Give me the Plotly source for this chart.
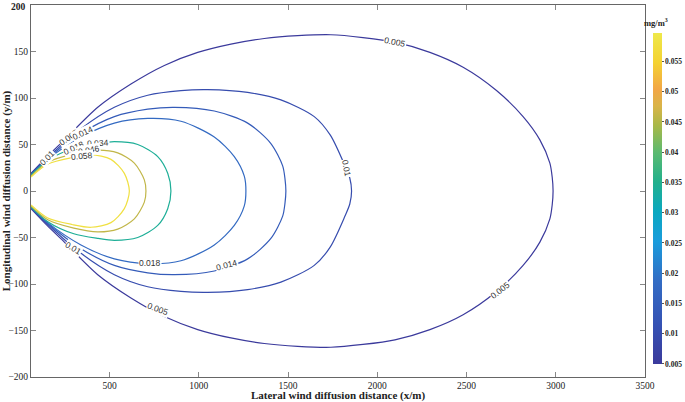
import plotly.graph_objects as go
from plotly.colors import sample_colorscale

# contour levels (mg/m^3) and upper-half points of each contour
levels = [0.005, 0.01, 0.014, 0.018, 0.034, 0.046, 0.058]

x_005 = [60, 150, 247, 434, 620, 807, 994, 1180, 1367, 1554, 1740, 1920, 2099, 2295, 2481, 2668, 2817, 2911, 2967, 2980, 2985]
y_005 = [19, 37, 55, 90, 115, 135, 149, 158, 164, 167, 168, 165, 160, 149, 133, 108, 80, 55, 30, 15, 0]
x_010 = [60, 154, 340, 527, 714, 900, 1050, 1274, 1460, 1647, 1737, 1819, 1846, 1856]
y_010 = [18, 36, 67, 90, 103, 108, 109, 106, 98, 80, 60, 27, 14, 0]
x_014 = [60, 154, 340, 527, 714, 863, 1087, 1274, 1404, 1470, 1483, 1488]
y_014 = [18, 35, 62, 80, 88, 90, 86, 73, 51, 27, 13, 0]
x_018 = [60, 154, 340, 527, 714, 900, 1087, 1199, 1255, 1264]
y_018 = [17, 34, 58, 73, 78, 75, 58, 37, 16, 0]
x_034 = [60, 154, 300, 436, 527, 658, 770, 826, 844]
y_034 = [17, 33, 46, 51, 53, 50, 37, 19, 0]
x_046 = [60, 154, 300, 434, 546, 639, 695, 704]
y_046 = [16, 31, 40, 44, 41, 30, 12, 0]
x_058 = [60, 154, 290, 396, 508, 583, 611]
y_058 = [15, 29, 36, 39, 34, 19, 0]

contour_x = [x_005, x_010, x_014, x_018, x_034, x_046, x_058]
contour_y = [y_005, y_010, y_014, y_018, y_034, y_046, y_058]

# inline contour labels: text, x, y, angle
label_text = ["0.005", "0.005", "0.005", "0.005", "0.01", "0.01", "0.01", "0.018", "0.014",
              "0.018", "0.014", "0.034", "0.046", "0.058"]
label_x = [2099, 2690, 771, 275, 1830, 296, 150, 727, 1156, 300, 350, 436, 385, 344]
label_y = [160, -106, -127, 58, 24, -61, 35, -77, -80, 46, 62, 52, 44, 38]
label_ang = [12, -38, 20, -35, 80, 30, -45, 0, -15, -25, -25, -3, -10, -5]

x_ticks = [500, 1000, 1500, 2000, 2500, 3000, 3500]
y_ticks = [-200, -150, -100, -50, 0, 50, 100, 150, 200]
cb_ticks = [0.005, 0.01, 0.015, 0.02, 0.025, 0.03, 0.035, 0.04, 0.045, 0.05, 0.055]
cmin, cmax = 0.005, 0.0597

parula = [[0.0, '#3b3a9c'], [0.12, '#3552b4'], [0.25, '#336cc4'], [0.37, '#1a9cdc'],
          [0.46, '#0aa8c0'], [0.55, '#22b08c'], [0.64, '#5cba70'], [0.72, '#a8b848'],
          [0.78, '#dab448'], [0.83, '#f2a646'], [0.91, '#f4d232'], [1.0, '#eee84a']]

serif = "Liberation Serif"

fig = go.Figure()

for lev, xs, ys in zip(levels, contour_x, contour_y):
    col = sample_colorscale(parula, [(lev - cmin) / (cmax - cmin)])[0]
    # upper half out to the nose, then back along the mirrored lower half
    px = xs + xs[::-1][1:]
    py = ys + [-v for v in ys[::-1][1:]]
    fig.add_trace(go.Scatter(x=px, y=py, mode='lines',
                             line=dict(color=col, width=1.2, shape='spline', smoothing=0.8),
                             showlegend=False, hoverinfo='skip'))

# colorbar only
fig.add_trace(go.Scatter(x=[None], y=[None], mode='markers', showlegend=False, hoverinfo='skip',
                         marker=dict(color=[cmin], cmin=cmin, cmax=cmax, colorscale=parula, showscale=True,
                                     colorbar=dict(thickness=9, len=331, lenmode='pixels', xpad=0, ypad=0,
                                                   x=1.0125, xanchor='left', y=0.48, yanchor='middle',
                                                   outlinewidth=0, ticks='outside', ticklen=2, tickcolor='#555',
                                                   tickvals=cb_ticks,
                                                   ticktext=[f"<b>{t:g}</b>" for t in cb_ticks],
                                                   tickfont=dict(family=serif, size=7.5, color='#222')))))

fig.add_annotation(x=1.04, y=1.0, xref='paper', yref='paper', yanchor='top', text="<b>mg/m<sup>3</sup></b>",
                   showarrow=False, yshift=-10, font=dict(family=serif, size=8.5, color='#222'))

# plotly drops the label of the top tick at the frame edge, so write it in by hand
fig.add_annotation(x=0, y=y_ticks[-1], xref='paper', yref='y', xanchor='right', yanchor='top',
                   text=f"<b>{y_ticks[-1]}</b>", showarrow=False, xshift=-3, yshift=5,
                   font=dict(family=serif, size=9.5, color='#222'))

for t, x, y, a in zip(label_text, label_x, label_y, label_ang):
    fig.add_annotation(x=x, y=y, text=t, textangle=a, showarrow=False, bgcolor='white', borderpad=0,
                       font=dict(family="Liberation Sans", size=8.5, color='#333'))

fig.update_xaxes(range=[60, 3500], tickvals=x_ticks,
                 showgrid=False, zeroline=False, showline=True, linecolor='#666', linewidth=1,
                 mirror='ticks', ticks='inside', ticklen=5, tickcolor='#888', automargin=False,
                 tickfont=dict(family=serif, size=9.5, color='#222'),
                 title=dict(text="<b>Lateral wind diffusion distance (x/m)</b>", standoff=1,
                            font=dict(family=serif, size=11, color='#222')))
fig.update_yaxes(range=[-200, 200], tickvals=y_ticks[:-1], ticklabeloverflow='allow',
                 showgrid=False, zeroline=False, showline=True, linecolor='#666', linewidth=1,
                 mirror='ticks', ticks='inside', ticklen=5, tickcolor='#888', automargin=False,
                 tickfont=dict(family=serif, size=9.5, color='#222'),
                 title=dict(text="<b>Longitudinal wind diffusion distance (y/m)</b>", standoff=0,
                            font=dict(family=serif, size=11, color='#222')))

fig.update_layout(width=685, height=402, margin=dict(l=31, r=40, t=5, b=25, autoexpand=False),
                  plot_bgcolor='white', paper_bgcolor='white', hovermode=False)

# drop the browser's default page margin so the figure sits at the window corner
fig.write_html("out.html", config={'displayModeBar': False},
               post_script="document.body.style.margin='0';")
